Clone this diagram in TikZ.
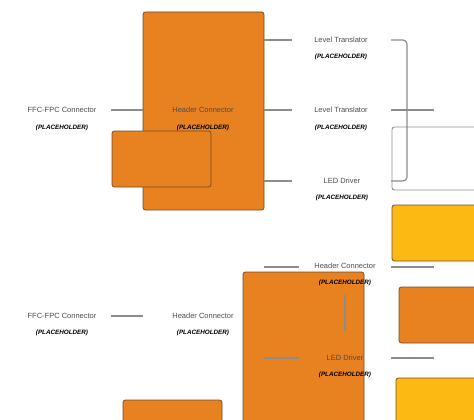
\documentclass[tikz,border=0pt]{standalone}
\usepackage{fontspec}
\setmainfont{Liberation Sans}
\begin{document}
\begin{tikzpicture}[x=1pt,y=-1pt,
  orangebox/.style={draw=brown!60!black,fill=boxorange,rounded corners=2.5pt,line width=0.8pt},
  yellowbox/.style={draw=brown!60!black,fill=boxyellow,rounded corners=2.5pt,line width=0.8pt},
  greybox/.style={draw=gray!85,fill=white,rounded corners=2.5pt,line width=0.9pt},
  wire/.style={draw=gray!90,line width=1.2pt},
  lbl/.style={font=\fontsize{7.5}{9}\selectfont,text=black!70,inner sep=0pt},
  ph/.style={font=\fontsize{6.3}{8}\selectfont\bfseries\itshape,text=black,inner sep=0pt}]
\definecolor{boxorange}{RGB}{232,130,32}
\definecolor{boxyellow}{RGB}{253,185,19}
\useasboundingbox (0,0) rectangle (474,420);
\clip (0,0) rectangle (474,420);
% ---------- top section ----------
\draw[orangebox] (143,12) rectangle (264,210);
\draw[orangebox] (112,131) rectangle (211,187);
\draw[greybox] (392,127) rectangle (490,190);
\draw[yellowbox] (392,205) rectangle (490,261);

\node[lbl] (t1) at (62,110) {FFC-FPC Connector};
\node[ph] (t1p) at (62,128) {(PLACEHOLDER)};
\node[lbl] (t2) at (203,110) {Header Connector};
\node[ph] (t2p) at (203,128) {(PLACEHOLDER)};
\node[lbl] (t3) at (341,40) {Level Translator};
\node[ph] (t3p) at (341,57) {(PLACEHOLDER)};
\node[lbl] (t4) at (341,110) {Level Translator};
\node[ph] (t4p) at (341,128) {(PLACEHOLDER)};
\node[lbl] (t5) at (342,181) {LED Driver};
\node[ph] (t5p) at (342,198) {(PLACEHOLDER)};

\coordinate (a1) at (111,110); \coordinate (a2) at (143,110);
\coordinate (b1) at (264,40);  \coordinate (b2) at (292,40);
\coordinate (c1) at (264,110); \coordinate (c2) at (292,110);
\coordinate (d1) at (264,181); \coordinate (d2) at (292,181);
\coordinate (e1) at (391,40);  \coordinate (e2) at (407,40);
\coordinate (e3) at (407,181); \coordinate (e4) at (391,181);
\coordinate (f1) at (391,110); \coordinate (f2) at (434,110);
\draw[wire] (a1) -- (a2);
\draw[wire] (b1) -- (b2);
\draw[wire] (c1) -- (c2);
\draw[wire] (d1) -- (d2);
\draw[wire,rounded corners=4pt] (e1) -- (e2) -- (e3) -- (e4);
\draw[wire] (f1) -- (f2);

% ---------- bottom section ----------
\draw[orangebox] (123,400) rectangle (222,440);
\draw[orangebox] (243,272) rectangle (364,440);
\draw[orangebox] (399,287) rectangle (490,343);
\draw[yellowbox] (396,378) rectangle (490,440);

\node[lbl] (u1) at (62,316) {FFC-FPC Connector};
\node[ph] (u1p) at (62,333) {(PLACEHOLDER)};
\node[lbl] (u2) at (203,316) {Header Connector};
\node[ph] (u2p) at (203,333) {(PLACEHOLDER)};
\node[lbl] (u3) at (345,266) {Header Connector};
\node[ph] (u3p) at (345,283) {(PLACEHOLDER)};
\node[lbl] (u4) at (345,358) {LED Driver};
\node[ph] (u4p) at (345,375) {(PLACEHOLDER)};

\coordinate (g1) at (111,316); \coordinate (g2) at (143,316);
\coordinate (h1) at (264,267); \coordinate (h2) at (299,267);
\coordinate (i1) at (391,267); \coordinate (i2) at (434,267);
\coordinate (j1) at (345,295); \coordinate (j2) at (345,331);
\coordinate (k1) at (264,358); \coordinate (k2) at (299,358);
\coordinate (l1) at (391,358); \coordinate (l2) at (434,358);
\draw[wire] (g1) -- (g2);
\draw[wire] (h1) -- (h2);
\draw[wire] (i1) -- (i2);
\draw[wire] (j1) -- (j2);
\draw[wire] (k1) -- (k2);
\draw[wire] (l1) -- (l2);
\end{tikzpicture}
\end{document}
